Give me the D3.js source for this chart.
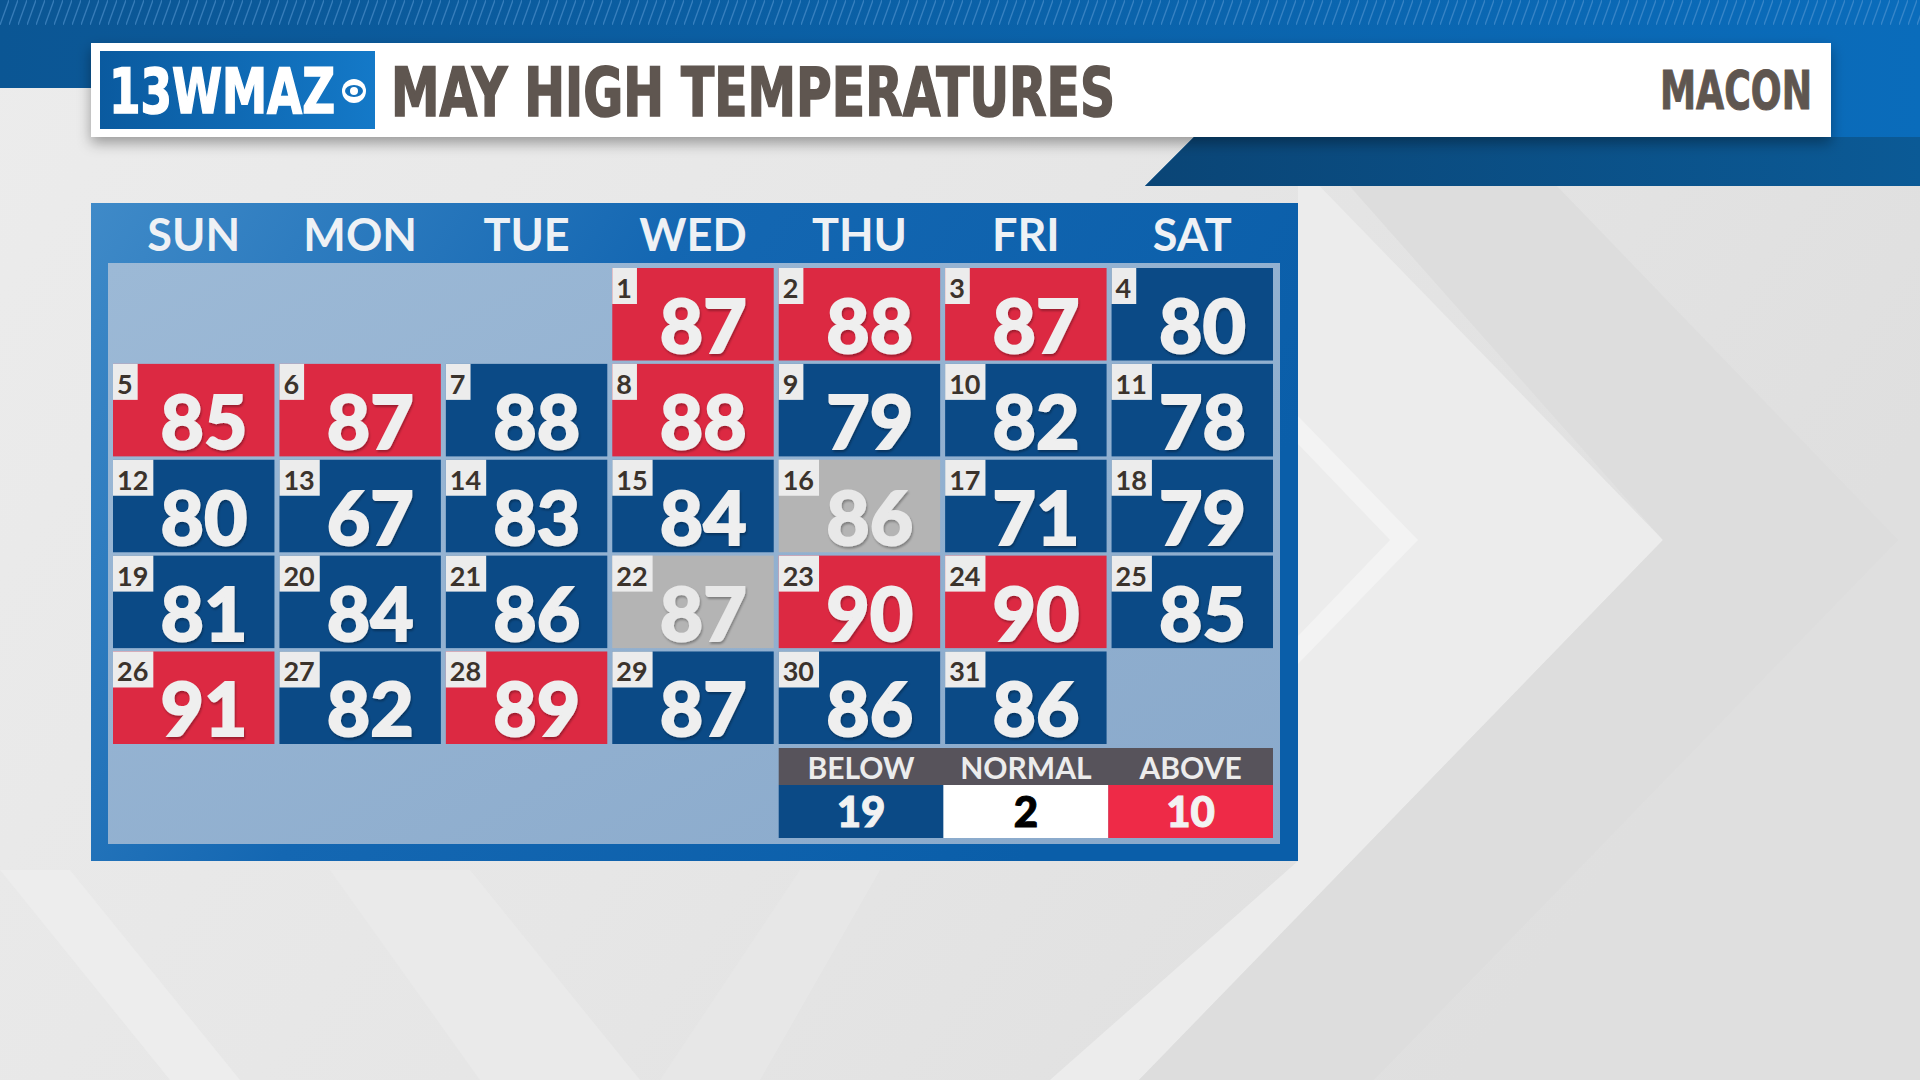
<!DOCTYPE html>
<html>
<head>
<meta charset="utf-8">
<script src="https://cdn.jsdelivr.net/npm/d3@7"></script>
<style>
  body { margin: 0; overflow: hidden; background: #e4e4e4; }
  svg { display: block; }
</style>
</head>
<body>
<div id="canva"></div>
<script>
// month data
const weekdays = ["SUN", "MON", "TUE", "WED", "THU", "FRI", "SAT"];
const dayNumbers = [1, 2, 3, 4, 5, 6, 7, 8, 9, 10, 11, 12, 13, 14, 15, 16,
                    17, 18, 19, 20, 21, 22, 23, 24, 25, 26, 27, 28, 29, 30, 31];
const highTemps = [87, 88, 87, 80, 85, 87, 88, 88, 79, 82, 78, 80, 67, 83, 84, 86,
                   71, 79, 81, 84, 86, 87, 90, 90, 85, 91, 82, 89, 87, 86, 86];
// A = above normal, B = below normal, N = normal
const status = ["A", "A", "A", "B", "A", "A", "B", "A", "B", "B", "B", "B", "B", "B", "B", "N",
                "B", "B", "B", "B", "B", "N", "A", "A", "B", "A", "B", "A", "B", "B", "B"];
const firstWeekday = 3; // May 1 is a Wednesday
const legendLabels = ["BELOW", "NORMAL", "ABOVE"];
const legendKeys = ["B", "N", "A"];
const title = "MAY HIGH TEMPERATURES";
const city = "MACON";

const width = 1920;
const height = 1080;

const svg = d3.select("#canva").append("svg")
    .attr("width", width)
    .attr("height", height);

const defs = svg.append("defs");

function linGrad(id, stops, x2 = 1, y2 = 0) {
    const g = defs.append("linearGradient").attr("id", id)
        .attr("x1", 0).attr("y1", 0).attr("x2", x2).attr("y2", y2);
    stops.forEach(s => g.append("stop").attr("offset", s[0]).attr("stop-color", s[1]));
}
linGrad("bgGrad", [[0, "#ececec"], [0.55, "#e6e6e6"], [1, "#dfdfdf"]], 1, 0.4);
linGrad("bandGrad", [[0, "#0b5694"], [1, "#0a6cbb"]]);
linGrad("darkGrad", [[0, "#0a4576"], [1, "#0b5a96"]]);
linGrad("logoGrad", [[0, "#0a5a9f"], [1, "#1479c8"]]);
linGrad("frameGrad", [[0, "#3f8ac8"], [0.45, "#1467b2"], [1, "#0a5ea9"]], 1, 0.35);
linGrad("innerGrad", [[0, "#9cb9d6"], [1, "#89a9cb"]], 1, 1);

const stripes = defs.append("pattern").attr("id", "stripes")
    .attr("width", 9).attr("height", 25)
    .attr("patternUnits", "userSpaceOnUse");
stripes.append("line")
    .attr("x1", 0).attr("y1", 25).attr("x2", 9).attr("y2", 0)
    .attr("stroke", "#5a9bd4").attr("stroke-opacity", 0.55).attr("stroke-width", 1.3);

const shadow = defs.append("filter").attr("id", "shadow")
    .attr("x", "-5%").attr("y", "-30%").attr("width", "110%").attr("height", "170%");
shadow.append("feDropShadow").attr("dx", 0).attr("dy", 6)
    .attr("stdDeviation", 7).attr("flood-color", "#000").attr("flood-opacity", 0.35);

const numShadow = defs.append("filter").attr("id", "numShadow")
    .attr("x", "-10%").attr("y", "-10%").attr("width", "120%").attr("height", "130%");
numShadow.append("feDropShadow").attr("dx", 1).attr("dy", 2)
    .attr("stdDeviation", 1).attr("flood-color", "#000").attr("flood-opacity", 0.3);

// background
svg.append("rect").attr("width", width).attr("height", height).attr("fill", "url(#bgGrad)");

const bgShapes = [
    { pts: [[1272, 137], [1663, 540], [1139, 1080], [1050, 1080], [1298, 861], [1298, 137]], fill: "#ececec" },
    { pts: [[1300, 130], [1503, 130], [1898, 540], [1374, 1080], [1139, 1080], [1663, 540]], fill: "#dddddd" },
    { pts: [[1298, 416], [1418, 540], [1298, 664], [1298, 636], [1390, 540], [1298, 444]], fill: "#f3f3f3" },
    { pts: [[0, 870], [70, 870], [240, 1080], [170, 1080]], fill: "#ededed" },
    { pts: [[330, 870], [470, 870], [640, 1080], [480, 1080]], fill: "#eaeaea" },
    { pts: [[800, 870], [880, 870], [760, 1080], [660, 1080]], fill: "#e7e7e7" }
];
svg.append("g").selectAll("polygon").data(bgShapes).join("polygon")
    .attr("points", d => d.pts.map(p => p.join(",")).join(" "))
    .attr("fill", d => d.fill);

// top band
svg.append("polygon")
    .attr("points", "0,0 1920,0 1920,88 1920,186 1145,186 1194,137 91,137 91,88 0,88")
    .attr("fill", "url(#bandGrad)");
svg.append("polygon")
    .attr("points", "1194,137 1920,137 1920,186 1145,186")
    .attr("fill", "url(#darkGrad)");
svg.append("rect").attr("x", 0).attr("y", 0).attr("width", width).attr("height", 25)
    .attr("fill", "url(#stripes)");

// header bar
svg.append("rect").attr("x", 91).attr("y", 43).attr("width", 1740).attr("height", 94)
    .attr("fill", "#ffffff").attr("filter", "url(#shadow)");

const condFont = "'Liberation Sans Narrow', 'DejaVu Sans Condensed', sans-serif";

const logo = svg.append("g");
logo.append("rect").attr("x", 100).attr("y", 51).attr("width", 275).attr("height", 78)
    .attr("fill", "url(#logoGrad)");
logo.append("text")
    .attr("x", 109).attr("y", 113)
    .attr("textLength", 226).attr("lengthAdjust", "spacingAndGlyphs")
    .style("font-family", condFont)
    .style("font-weight", 700).style("font-size", "62px").style("fill", "#ffffff")
    .style("stroke", "#ffffff").style("stroke-width", 1.5)
    .text("13WMAZ");
logo.append("circle").attr("cx", 354).attr("cy", 91).attr("r", 12)
    .attr("fill", "#ffffff");
logo.append("ellipse").attr("cx", 354).attr("cy", 91).attr("rx", 9).attr("ry", 6)
    .attr("fill", "#1170bd");
logo.append("circle").attr("cx", 354).attr("cy", 91).attr("r", 4).attr("fill", "#ffffff");

svg.append("text")
    .attr("x", 391).attr("y", 116)
    .attr("textLength", 724).attr("lengthAdjust", "spacingAndGlyphs")
    .style("font-family", condFont)
    .style("font-weight", 700).style("font-size", "68px").style("fill", "#5f5650")
    .style("stroke", "#5f5650").style("stroke-width", 1.6)
    .text(title);

svg.append("text")
    .attr("x", 1812).attr("y", 109).attr("text-anchor", "end")
    .attr("textLength", 152).attr("lengthAdjust", "spacingAndGlyphs")
    .style("font-family", condFont)
    .style("font-weight", 700).style("font-size", "53px").style("fill", "#5f5650")
    .style("stroke", "#5f5650").style("stroke-width", 1)
    .text(city);

// calendar frame
svg.append("rect").attr("x", 91).attr("y", 203).attr("width", 1207).attr("height", 658)
    .attr("fill", "url(#frameGrad)");
svg.append("rect").attr("x", 108).attr("y", 263).attr("width", 1172).attr("height", 581)
    .attr("fill", "url(#innerGrad)");

const x = d3.scaleBand()
    .domain(d3.range(7))
    .range([113, 1273])
    .paddingInner(0.03);

const y = d3.scaleBand()
    .domain(d3.range(5))
    .range([268, 744])
    .paddingInner(0.035);

const color = d3.scaleOrdinal().domain(["B", "N", "A"]).range(["#0b4a86", "#b4b4b4", "#dc2942"]);
const numColor = d3.scaleOrdinal().domain(["B", "N", "A"]).range(["#efefef", "#e8e8e8", "#efefef"]);

const numFont = "Lato, 'Open Sans', sans-serif";

svg.append("g").selectAll("text").data(weekdays).join("text")
    .attr("x", (d, i) => x(i) + x.bandwidth() / 2)
    .attr("y", 251)
    .attr("text-anchor", "middle")
    .style("font-family", numFont).style("font-weight", 700)
    .style("font-size", "45px").style("fill", "#eef1f5")
    .text(d => d);

const days = dayNumbers.map((d, i) => ({
    day: d,
    temp: highTemps[i],
    status: status[i],
    col: (firstWeekday + i) % 7,
    row: Math.floor((firstWeekday + i) / 7)
}));

const cells = svg.append("g").selectAll("g").data(days).join("g")
    .attr("transform", d => `translate(${x(d.col)},${y(d.row)})`);

cells.append("rect")
    .attr("width", x.bandwidth())
    .attr("height", y.bandwidth())
    .attr("fill", d => color(d.status));

cells.append("text")
    .attr("x", x.bandwidth() - 27)
    .attr("y", 85)
    .attr("text-anchor", "end")
    .attr("filter", "url(#numShadow)")
    .style("font-family", numFont).style("font-weight", 900)
    .style("font-size", "75px")
    .style("fill", d => numColor(d.status))
    .style("stroke", d => numColor(d.status)).style("stroke-width", 1.8)
    .text(d => d.temp);

const dayBox = cells.append("rect")
    .attr("height", 36)
    .attr("fill", "#ececec");

const dayText = cells.append("text")
    .attr("x", 4).attr("y", 30)
    .style("font-family", numFont).style("font-weight", 700)
    .style("font-size", "27px").style("fill", "#3b332c")
    .text(d => d.day);

dayText.each(function (d) { d.w = this.getComputedTextLength(); });
dayBox.attr("width", d => d.w + 9);

// legend
const counts = legendKeys.map(k => status.filter(s => s === k).length);
const lx = d3.scaleBand()
    .domain(legendLabels)
    .range([x(4), x(6) + x.bandwidth()]);

const legend = svg.append("g");
legend.append("rect")
    .attr("x", x(4)).attr("y", 748)
    .attr("width", x(6) + x.bandwidth() - x(4)).attr("height", 37)
    .attr("fill", "#57535b");

legend.selectAll("text.lab").data(legendLabels).join("text")
    .attr("class", "lab")
    .attr("x", d => lx(d) + lx.bandwidth() / 2)
    .attr("y", 779)
    .attr("text-anchor", "middle")
    .style("font-family", numFont).style("font-weight", 700)
    .style("font-size", "30px").style("fill", "#ececec")
    .text(d => d);

legend.selectAll("rect.val").data(legendKeys).join("rect")
    .attr("class", "val")
    .attr("x", (d, i) => lx(legendLabels[i]))
    .attr("y", 785)
    .attr("width", lx.bandwidth())
    .attr("height", 53)
    .attr("fill", d => d === "N" ? "#ffffff" : d === "A" ? "#ee2a47" : "#0b4a86");

legend.selectAll("text.val").data(legendKeys).join("text")
    .attr("class", "val")
    .attr("x", (d, i) => lx(legendLabels[i]) + lx.bandwidth() / 2)
    .attr("y", 827)
    .attr("text-anchor", "middle")
    .style("font-family", numFont).style("font-weight", 900)
    .style("font-size", "42px")
    .style("fill", d => d === "N" ? "#000000" : "#f2f2f2")
    .style("stroke", d => d === "N" ? "#000000" : "#f2f2f2").style("stroke-width", 1)
    .text((d, i) => counts[i]);
</script>
</body>
</html>
